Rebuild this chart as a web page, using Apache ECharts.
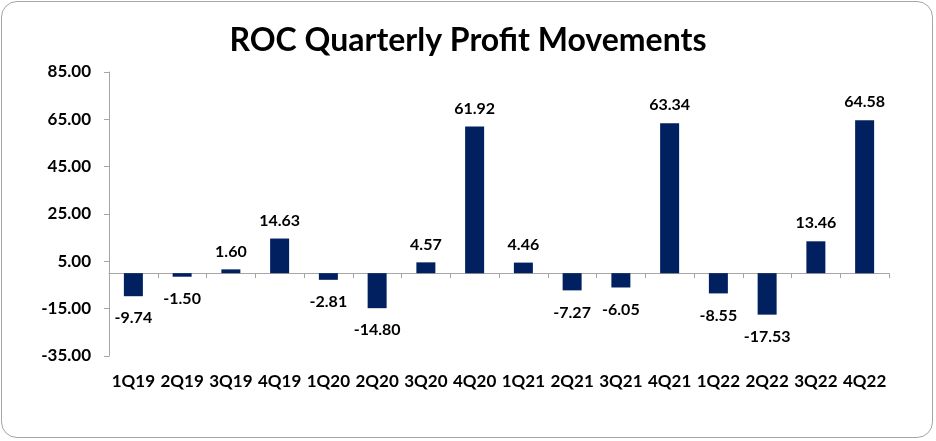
<!DOCTYPE html>
<html>
<head>
<meta charset="utf-8">
<script src="https://cdn.jsdelivr.net/npm/echarts@6/dist/echarts.min.js"></script>
<style>
  html, body { margin: 0; padding: 0; background: #fff; }
  .frame {
    position: absolute; left: 1px; top: 1px; width: 932px; height: 437px;
    border: 1px solid #a6a6a6; border-radius: 16px; box-sizing: border-box;
  }
  .chart { position: absolute; left: 0; top: 0; width: 936px; height: 441px; }
</style>
</head>
<body>
<div class="frame"></div>
<div class="chart" id="chart"></div>
<script>
const categories = ['1Q19', '2Q19', '3Q19', '4Q19', '1Q20', '2Q20', '3Q20', '4Q20',
  '1Q21', '2Q21', '3Q21', '4Q21', '1Q22', '2Q22', '3Q22', '4Q22'];
const profit = [-9.74, -1.50, 1.60, 14.63, -2.81, -14.80, 4.57, 61.92,
  4.46, -7.27, -6.05, 63.34, -8.55, -17.53, 13.46, 64.58];

const fontFamily = 'Lato';
const axisColor = '#a6a6a6';

const chart = echarts.init(document.getElementById('chart'));
const option = {
  animation: false,
  title: {
    text: 'ROC Quarterly Profit Movements',
    left: 'center',
    top: 20,
    textStyle: { fontFamily, fontSize: 32, fontWeight: 'bold', color: '#000' }
  },
  grid: { left: 109, right: 47, top: 72, bottom: 85 },
  xAxis: [
    {
      type: 'category',
      data: categories,
      axisLine: { onZero: true, lineStyle: { color: axisColor } },
      axisTick: { show: true, length: 5, lineStyle: { color: axisColor } },
      axisLabel: { show: false }
    },
    {
      type: 'category',
      data: categories,
      position: 'bottom',
      axisLine: { show: false, onZero: false },
      axisTick: { show: false },
      axisLabel: {
        interval: 0,
        margin: 17,
        color: '#000',
        fontFamily,
        fontSize: 17,
        fontWeight: 'bold'
      }
    }
  ],
  yAxis: {
    type: 'value',
    min: -35,
    max: 85,
    interval: 20,
    axisLine: { show: true, lineStyle: { color: axisColor } },
    axisTick: { show: true, length: 5, lineStyle: { color: axisColor } },
    splitLine: { show: false },
    axisLabel: {
      margin: 18,
      color: '#000',
      fontFamily,
      fontSize: 17,
      fontWeight: 'bold',
      formatter: v => v.toFixed(2)
    }
  },
  series: [{
    type: 'bar',
    data: profit.map(v => ({
      value: v,
      label: { position: v >= 0 ? 'top' : 'bottom', distance: v >= 0 ? 10 : 14 }
    })),
    xAxisIndex: 0,
    barWidth: 19,
    itemStyle: { color: '#002060' },
    label: {
      show: true,
      color: '#000',
      fontFamily,
      fontSize: 16,
      fontWeight: 'bold',
      formatter: p => p.value.toFixed(2)
    }
  }]
};
chart.setOption(option);
</script>
</body>
</html>
